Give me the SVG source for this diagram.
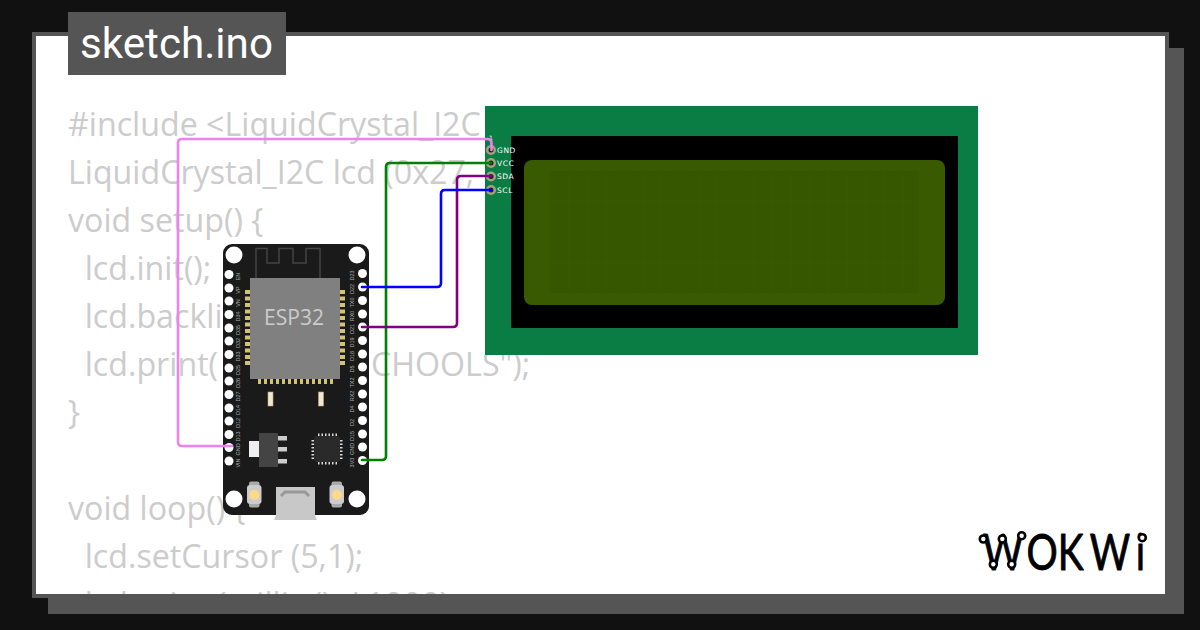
<svg xmlns="http://www.w3.org/2000/svg" width="1200" height="630" viewBox="0 0 1200 630">
<style>
.code{font-family:"Open Sans","Noto Sans",sans-serif;font-size:32.2px;fill:#ccc;white-space:pre}
.pin{fill:#fff}
.pl{font-family:"Liberation Sans",Arial,sans-serif;font-size:5.5px;fill:#aaa;text-anchor:middle}
.ll{font-family:"DejaVu Sans",sans-serif;font-size:7.5px;fill:#fff;letter-spacing:.6px}
.wire{fill:none;stroke-width:2.6;stroke-linecap:round;stroke-linejoin:round}
.pad{fill:#d2c273}
.lp{fill:#a89f80}
.lh{fill:#222}
.qp{fill:#ddd}
.logo{font-family:"Lato","Open Sans",sans-serif;font-size:50px;fill:#000;stroke:#000;stroke-width:.9;stroke-linejoin:round}
.ring{fill:#fff;stroke:#000;stroke-width:2.6}
</style>
<defs>
<clipPath id="c"><rect x="36" y="36" width="1129" height="558"/></clipPath>
</defs>
<rect width="1200" height="630" fill="#111"/>
<rect x="48" y="48" width="1136" height="566" fill="#555"/>
<rect x="34" y="34" width="1133" height="562" fill="#fff" stroke="#555" stroke-width="4"/>
<g id="code" clip-path="url(#c)">
<text class="code" x="68" y="136">#include &lt;LiquidCrystal_I2C</text>
<text class="code" x="68" y="184">LiquidCrystal_I2C lcd (0x27,</text>
<text class="code" x="68" y="232">void setup() {</text>
<text class="code" x="68" y="280">  lcd.init();</text>
<text class="code" x="68" y="328">  lcd.backli</text>
<text class="code" x="68" y="376">  lcd.print(</text>
<text class="code" x="371" y="376">CHOOLS");</text>
<text class="code" x="68" y="424">}</text>
<text class="code" x="68" y="520">void loop() {</text>
<text class="code" x="68" y="568">  lcd.setCursor (5,1);</text>
<text class="code" x="68" y="616">  lcd.print (millis ()<tspan x="346">/ 1000);</tspan></text>
</g>
<g id="tab">
<rect x="68" y="12" width="218" height="63" fill="#555"/>
<text x="80" y="58" font-family="Roboto,sans-serif" font-size="42.2" fill="#fff">sketch.ino</text>
</g>
<g id="lcd">
<rect x="485" y="106" width="493" height="249" fill="#0a7d45"/>
<rect x="511" y="136" width="447" height="192" fill="#000"/>
<rect x="524" y="160" width="421" height="145" rx="8" fill="#395a00"/>
<rect x="550" y="171" width="369" height="122" fill="#365600"/>
<path d="M550 171v122M569 171v122M587 171v122M606 171v122M624 171v122M643 171v122M661 171v122M680 171v122M699 171v122M717 171v122M736 171v122M754 171v122M773 171v122M791 171v122M810 171v122M828 171v122M847 171v122M866 171v122M884 171v122M903 171v122M550 202h369M550 232h369M550 263h369" stroke="#395a00" stroke-width="1.500" fill="none"/>
<circle class="lp" cx="491" cy="150" r="5"/><circle class="lh" cx="491" cy="150" r="2.500"/>
<circle class="lp" cx="491" cy="163" r="5"/><circle class="lh" cx="491" cy="163" r="2.500"/>
<circle class="lp" cx="491" cy="176.500" r="5"/><circle class="lh" cx="491" cy="176.500" r="2.500"/>
<circle class="lp" cx="491" cy="190" r="5"/><circle class="lh" cx="491" cy="190" r="2.500"/>
<text x="489" y="140" font-family="DejaVu Sans,sans-serif" font-size="6" fill="#fff">1</text>
<text class="ll" x="497" y="153">GND</text>
<text class="ll" x="497" y="166">VCC</text>
<text class="ll" x="497" y="179">SDA</text>
<text class="ll" x="497" y="193">SCL</text>
</g>
<g id="esp32">
<rect x="223" y="244" width="146" height="271" rx="9" fill="#1a1a1a"/>
<circle class="pin" cx="234" cy="255" r="8.500"/><circle class="pin" cx="357" cy="255" r="8.500"/>
<circle class="pin" cx="234" cy="499" r="8.500"/><circle class="pin" cx="357" cy="499" r="8.500"/>
<path d="M256 278V248.500H267V263H279V248.500H293V263H306V248.500H320V278" fill="none" stroke="#444" stroke-width="1.500"/>
<g class="pad">
<rect x="245" y="290" width="5" height="4"/><rect x="245" y="296.500" width="5" height="4"/><rect x="245" y="303" width="5" height="4"/><rect x="245" y="309.500" width="5" height="4"/><rect x="245" y="316" width="5" height="4"/><rect x="245" y="322.500" width="5" height="4"/><rect x="245" y="329" width="5" height="4"/><rect x="245" y="335.500" width="5" height="4"/><rect x="245" y="342" width="5" height="4"/><rect x="245" y="348.500" width="5" height="4"/><rect x="245" y="355" width="5" height="4"/><rect x="245" y="361" width="5" height="4"/>
<rect x="340" y="290" width="5" height="4"/><rect x="340" y="296.500" width="5" height="4"/><rect x="340" y="303" width="5" height="4"/><rect x="340" y="309.500" width="5" height="4"/><rect x="340" y="316" width="5" height="4"/><rect x="340" y="322.500" width="5" height="4"/><rect x="340" y="329" width="5" height="4"/><rect x="340" y="335.500" width="5" height="4"/><rect x="340" y="342" width="5" height="4"/><rect x="340" y="348.500" width="5" height="4"/><rect x="340" y="355" width="5" height="4"/><rect x="340" y="361" width="5" height="4"/>
<rect x="258" y="379" width="3" height="5"/><rect x="264" y="379" width="3" height="5"/><rect x="270" y="379" width="3" height="5"/><rect x="276" y="379" width="3" height="5"/><rect x="282" y="379" width="3" height="5"/><rect x="288" y="379" width="3" height="5"/><rect x="294" y="379" width="3" height="5"/><rect x="300" y="379" width="3" height="5"/><rect x="306" y="379" width="3" height="5"/><rect x="312" y="379" width="3" height="5"/><rect x="318" y="379" width="3" height="5"/><rect x="324" y="379" width="3" height="5"/><rect x="330" y="379" width="3" height="5"/>
</g>
<rect x="250" y="278" width="90" height="101" fill="#808080"/>
<text x="294" y="325" font-family="Open Sans,sans-serif" font-size="21" fill="#ccc" text-anchor="middle">ESP32</text>
<g id="esp-pins">
<circle class="pin" cx="229" cy="274.500" r="4.500"/><circle class="pin" cx="229" cy="288" r="4.500"/><circle class="pin" cx="229" cy="301" r="4.500"/><circle class="pin" cx="229" cy="314.500" r="4.500"/><circle class="pin" cx="229" cy="328" r="4.500"/><circle class="pin" cx="229" cy="341" r="4.500"/><circle class="pin" cx="229" cy="354.500" r="4.500"/><circle class="pin" cx="229" cy="368" r="4.500"/><circle class="pin" cx="229" cy="381" r="4.500"/><circle class="pin" cx="229" cy="394.500" r="4.500"/><circle class="pin" cx="229" cy="408" r="4.500"/><circle class="pin" cx="229" cy="421" r="4.500"/><circle class="pin" cx="229" cy="434.500" r="4.500"/><circle class="pin" cx="229" cy="447.500" r="4.500"/><circle class="pin" cx="229" cy="461" r="4.500"/>
<circle class="pin" cx="362.500" cy="273.500" r="4.500"/><circle class="pin" cx="362.500" cy="287" r="4.500"/><circle class="pin" cx="362.500" cy="300.500" r="4.500"/><circle class="pin" cx="362.500" cy="314" r="4.500"/><circle class="pin" cx="362.500" cy="327" r="4.500"/><circle class="pin" cx="362.500" cy="340.500" r="4.500"/><circle class="pin" cx="362.500" cy="354" r="4.500"/><circle class="pin" cx="362.500" cy="367" r="4.500"/><circle class="pin" cx="362.500" cy="380.500" r="4.500"/><circle class="pin" cx="362.500" cy="394" r="4.500"/><circle class="pin" cx="362.500" cy="407" r="4.500"/><circle class="pin" cx="362.500" cy="420.500" r="4.500"/><circle class="pin" cx="362.500" cy="434" r="4.500"/><circle class="pin" cx="362.500" cy="447" r="4.500"/><circle class="pin" cx="362.500" cy="460.500" r="4.500"/>
</g>
<g id="esp-labels">
<text class="pl" transform="translate(240 276.500) rotate(-90)">EN</text><text class="pl" transform="translate(240 290) rotate(-90)">VP</text><text class="pl" transform="translate(240 303) rotate(-90)">VN</text><text class="pl" transform="translate(240 316.500) rotate(-90)">D34</text><text class="pl" transform="translate(240 330) rotate(-90)">D35</text><text class="pl" transform="translate(240 343) rotate(-90)">D32</text><text class="pl" transform="translate(240 356.500) rotate(-90)">D33</text><text class="pl" transform="translate(240 370) rotate(-90)">D25</text><text class="pl" transform="translate(240 383) rotate(-90)">D26</text><text class="pl" transform="translate(240 396.500) rotate(-90)">D27</text><text class="pl" transform="translate(240 410) rotate(-90)">D14</text><text class="pl" transform="translate(240 423) rotate(-90)">D12</text><text class="pl" transform="translate(240 436.500) rotate(-90)">D13</text><text class="pl" transform="translate(240 449.500) rotate(-90)">GND</text><text class="pl" transform="translate(240 463) rotate(-90)">VIN</text>
<text class="pl" transform="translate(354 275.500) rotate(-90)">D23</text><text class="pl" transform="translate(354 289) rotate(-90)">D22</text><text class="pl" transform="translate(354 302.500) rotate(-90)">TX0</text><text class="pl" transform="translate(354 316) rotate(-90)">RX0</text><text class="pl" transform="translate(354 329) rotate(-90)">D21</text><text class="pl" transform="translate(354 342.500) rotate(-90)">D19</text><text class="pl" transform="translate(354 356) rotate(-90)">D18</text><text class="pl" transform="translate(354 369) rotate(-90)">D5</text><text class="pl" transform="translate(354 382.500) rotate(-90)">TX2</text><text class="pl" transform="translate(354 396) rotate(-90)">RX2</text><text class="pl" transform="translate(354 409) rotate(-90)">D4</text><text class="pl" transform="translate(354 422.500) rotate(-90)">D2</text><text class="pl" transform="translate(354 436) rotate(-90)">D15</text><text class="pl" transform="translate(354 449) rotate(-90)">GND</text><text class="pl" transform="translate(354 462.500) rotate(-90)">3V3</text>
</g>
<rect x="268" y="392" width="5" height="14" fill="#f0e8d0" stroke="#b9a878" stroke-width=".6"/>
<rect x="318.500" y="392" width="5" height="14" fill="#f0e8d0" stroke="#b9a878" stroke-width=".6"/>
<rect x="249" y="441" width="10" height="16" fill="#eee"/>
<rect x="259" y="433" width="19" height="34" fill="#444"/>
<rect x="278" y="436" width="9" height="4.500" fill="#ccc"/><rect x="278" y="447" width="9" height="4.500" fill="#ccc"/><rect x="278" y="459" width="9" height="4.500" fill="#ccc"/>
<rect x="314" y="436" width="26" height="26" rx="3" fill="#2a2a2a"/>
<g class="qp">
<rect x="318" y="433.500" width="1.500" height="2.500"/><rect x="321.500" y="433.500" width="1.500" height="2.500"/><rect x="325" y="433.500" width="1.500" height="2.500"/><rect x="328.500" y="433.500" width="1.500" height="2.500"/><rect x="332" y="433.500" width="1.500" height="2.500"/><rect x="335.500" y="433.500" width="1.500" height="2.500"/>
<rect x="318" y="462" width="1.500" height="2.500"/><rect x="321.500" y="462" width="1.500" height="2.500"/><rect x="325" y="462" width="1.500" height="2.500"/><rect x="328.500" y="462" width="1.500" height="2.500"/><rect x="332" y="462" width="1.500" height="2.500"/><rect x="335.500" y="462" width="1.500" height="2.500"/>
<rect x="311.500" y="440" width="2.500" height="1.500"/><rect x="311.500" y="443.500" width="2.500" height="1.500"/><rect x="311.500" y="447" width="2.500" height="1.500"/><rect x="311.500" y="450.500" width="2.500" height="1.500"/><rect x="311.500" y="454" width="2.500" height="1.500"/><rect x="311.500" y="457.500" width="2.500" height="1.500"/>
<rect x="340" y="440" width="2.500" height="1.500"/><rect x="340" y="443.500" width="2.500" height="1.500"/><rect x="340" y="447" width="2.500" height="1.500"/><rect x="340" y="450.500" width="2.500" height="1.500"/><rect x="340" y="454" width="2.500" height="1.500"/><rect x="340" y="457.500" width="2.500" height="1.500"/>
</g>
<rect x="249" y="481.500" width="10.500" height="26" rx="2" fill="#aaa"/>
<rect x="247" y="485" width="14.500" height="19" rx="3" fill="#ccc"/>
<circle cx="254.300" cy="495" r="5" fill="#ffd98a"/>
<rect x="331.500" y="481.500" width="10.500" height="26" rx="2" fill="#aaa"/>
<rect x="329.500" y="485" width="14.500" height="19" rx="3" fill="#ccc"/>
<circle cx="337" cy="495" r="5" fill="#ffd98a"/>
<path d="M276 487H315V515L317 520H274L276 515Z" fill="#c8c8c8"/>
<path d="M281 496L285 492H305L309 496" fill="none" stroke="#999" stroke-width="3"/>
</g>
<g id="wires">
<path class="wire" stroke="#ee82ee" d="M232 446H182Q178 446 178 442V143Q178 139 182 139H487Q491.500 139 491.500 143V150"/>
<path class="wire" stroke="#008000" d="M362 460H382Q386 460 386 456V167Q386 163 390 163H491"/>
<path class="wire" stroke="#800080" d="M362 327H453Q457 327 457 323V180Q457 176 461 176H491"/>
<path class="wire" stroke="#0000ff" d="M362 287H437Q441 287 441 283V194Q441 190 445 190H491"/>
</g>
<g id="logo">
<text class="logo" transform="scale(.78 1)" x="1260 1316 1356 1397 1456" y="570">WOKWi</text>
<circle class="ring" cx="983.300" cy="539" r="3.500"/><circle class="ring" cx="1002.300" cy="539" r="3.500"/><circle class="ring" cx="1021.700" cy="535.700" r="3.500"/><circle class="ring" cx="993.300" cy="564.300" r="3.500"/><circle class="ring" cx="1011.700" cy="564.300" r="3.500"/><circle class="ring" cx="1142.300" cy="537.700" r="3.500"/>
</g>
</svg>
